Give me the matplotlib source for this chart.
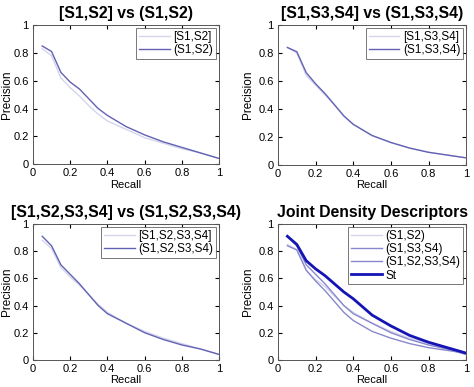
import matplotlib
matplotlib.use("Agg")
import matplotlib.pyplot as plt

plt.rcParams['font.family'] = ['Liberation Sans', 'DejaVu Sans']

recall = [0.05, 0.1, 0.15, 0.2, 0.25, 0.3, 0.35, 0.4, 0.5, 0.6, 0.7, 0.8, 0.9, 1.0]

# [..] light curves and (..) dark curves
sq_s12 = [0.83, 0.78, 0.62, 0.55, 0.49, 0.42, 0.36, 0.31, 0.25, 0.19, 0.15, 0.11, 0.08, 0.04]
rd_s12 = [0.85, 0.81, 0.66, 0.59, 0.54, 0.47, 0.40, 0.35, 0.27, 0.21, 0.16, 0.12, 0.08, 0.04]
sq_s134 = [0.84, 0.80, 0.64, 0.57, 0.50, 0.43, 0.35, 0.29, 0.21, 0.16, 0.12, 0.09, 0.07, 0.05]
rd_s134 = [0.84, 0.81, 0.66, 0.58, 0.51, 0.43, 0.35, 0.29, 0.21, 0.16, 0.12, 0.09, 0.07, 0.05]
sq_s1234 = [0.88, 0.82, 0.68, 0.61, 0.55, 0.48, 0.41, 0.35, 0.27, 0.21, 0.16, 0.12, 0.08, 0.04]
rd_s1234 = [0.91, 0.84, 0.70, 0.63, 0.56, 0.48, 0.40, 0.34, 0.27, 0.20, 0.15, 0.11, 0.08, 0.04]
st = [0.91, 0.85, 0.73, 0.67, 0.62, 0.56, 0.50, 0.45, 0.33, 0.25, 0.18, 0.13, 0.09, 0.05]

light = '#d4d4ee'
dark = '#6262b4'
mid = '#8888cc'
blue = '#1414b4'

fig = plt.figure(figsize=(4.74, 3.87), dpi=100)
pos = [[0.0695, 0.576, 0.393, 0.359],
       [0.5865, 0.574, 0.397, 0.361],
       [0.0695, 0.070, 0.393, 0.351],
       [0.5865, 0.070, 0.397, 0.351]]
titles = ['[S1,S2] vs (S1,S2)', '[S1,S3,S4] vs (S1,S3,S4)',
          '[S1,S2,S3,S4] vs (S1,S2,S3,S4)', 'Joint Density Descriptors']

axes = [fig.add_axes(p) for p in pos]

axes[0].plot(recall, sq_s12, color=light, lw=1, label='[S1,S2]')
axes[0].plot(recall, rd_s12, color=dark, lw=1, label='(S1,S2)')
axes[1].plot(recall, sq_s134, color=light, lw=1, label='[S1,S3,S4]')
axes[1].plot(recall, rd_s134, color=dark, lw=1, label='(S1,S3,S4)')
axes[2].plot(recall, sq_s1234, color=light, lw=1, label='[S1,S2,S3,S4]')
axes[2].plot(recall, rd_s1234, color=dark, lw=1, label='(S1,S2,S3,S4)')
axes[3].plot(recall, rd_s12, color=light, lw=1, label='(S1,S2)')
axes[3].plot(recall, rd_s134, color=mid, lw=1, label='(S1,S3,S4)')
axes[3].plot(recall, rd_s1234, color=mid, lw=1, label='(S1,S2,S3,S4)')
axes[3].plot(recall, st, color=blue, lw=2, label='St')

ylab_x = [-0.105, -0.125, -0.105, -0.125]

for ax, t, lx in zip(axes, titles, ylab_x):
    ax.set_xlim(0, 1)
    ax.set_ylim(0, 1)
    ax.set_xticks([0, 0.2, 0.4, 0.6, 0.8, 1])
    ax.set_xticklabels(['0', '0.2', '0.4', '0.6', '0.8', '1'])
    ax.set_yticks([0, 0.2, 0.4, 0.6, 0.8, 1])
    ax.set_yticklabels(['0', '0.2', '0.4', '0.6', '0.8', '1'])
    ax.tick_params(direction='in', top=True, right=True, labelsize=8, length=3, pad=3)
    ax.set_xlabel('Recall', fontsize=8, labelpad=1)
    ax.set_ylabel('Precision', fontsize=8.5)
    ax.yaxis.set_label_coords(lx, 0.5)
    ax.set_title(t, fontsize=11.3, fontweight='bold', pad=5)
    for s in ax.spines.values():
        s.set_color('#555555')
        s.set_linewidth(0.7)
    leg = ax.legend(loc='upper right', fontsize=8.5, frameon=True, fancybox=False,
                    borderpad=0.25, labelspacing=0.1, handlelength=2.6,
                    handletextpad=0.3, borderaxespad=0.25)
    leg.get_frame().set_edgecolor('#555555')
    leg.get_frame().set_linewidth(0.7)

fig.savefig('out.png', dpi=100)
